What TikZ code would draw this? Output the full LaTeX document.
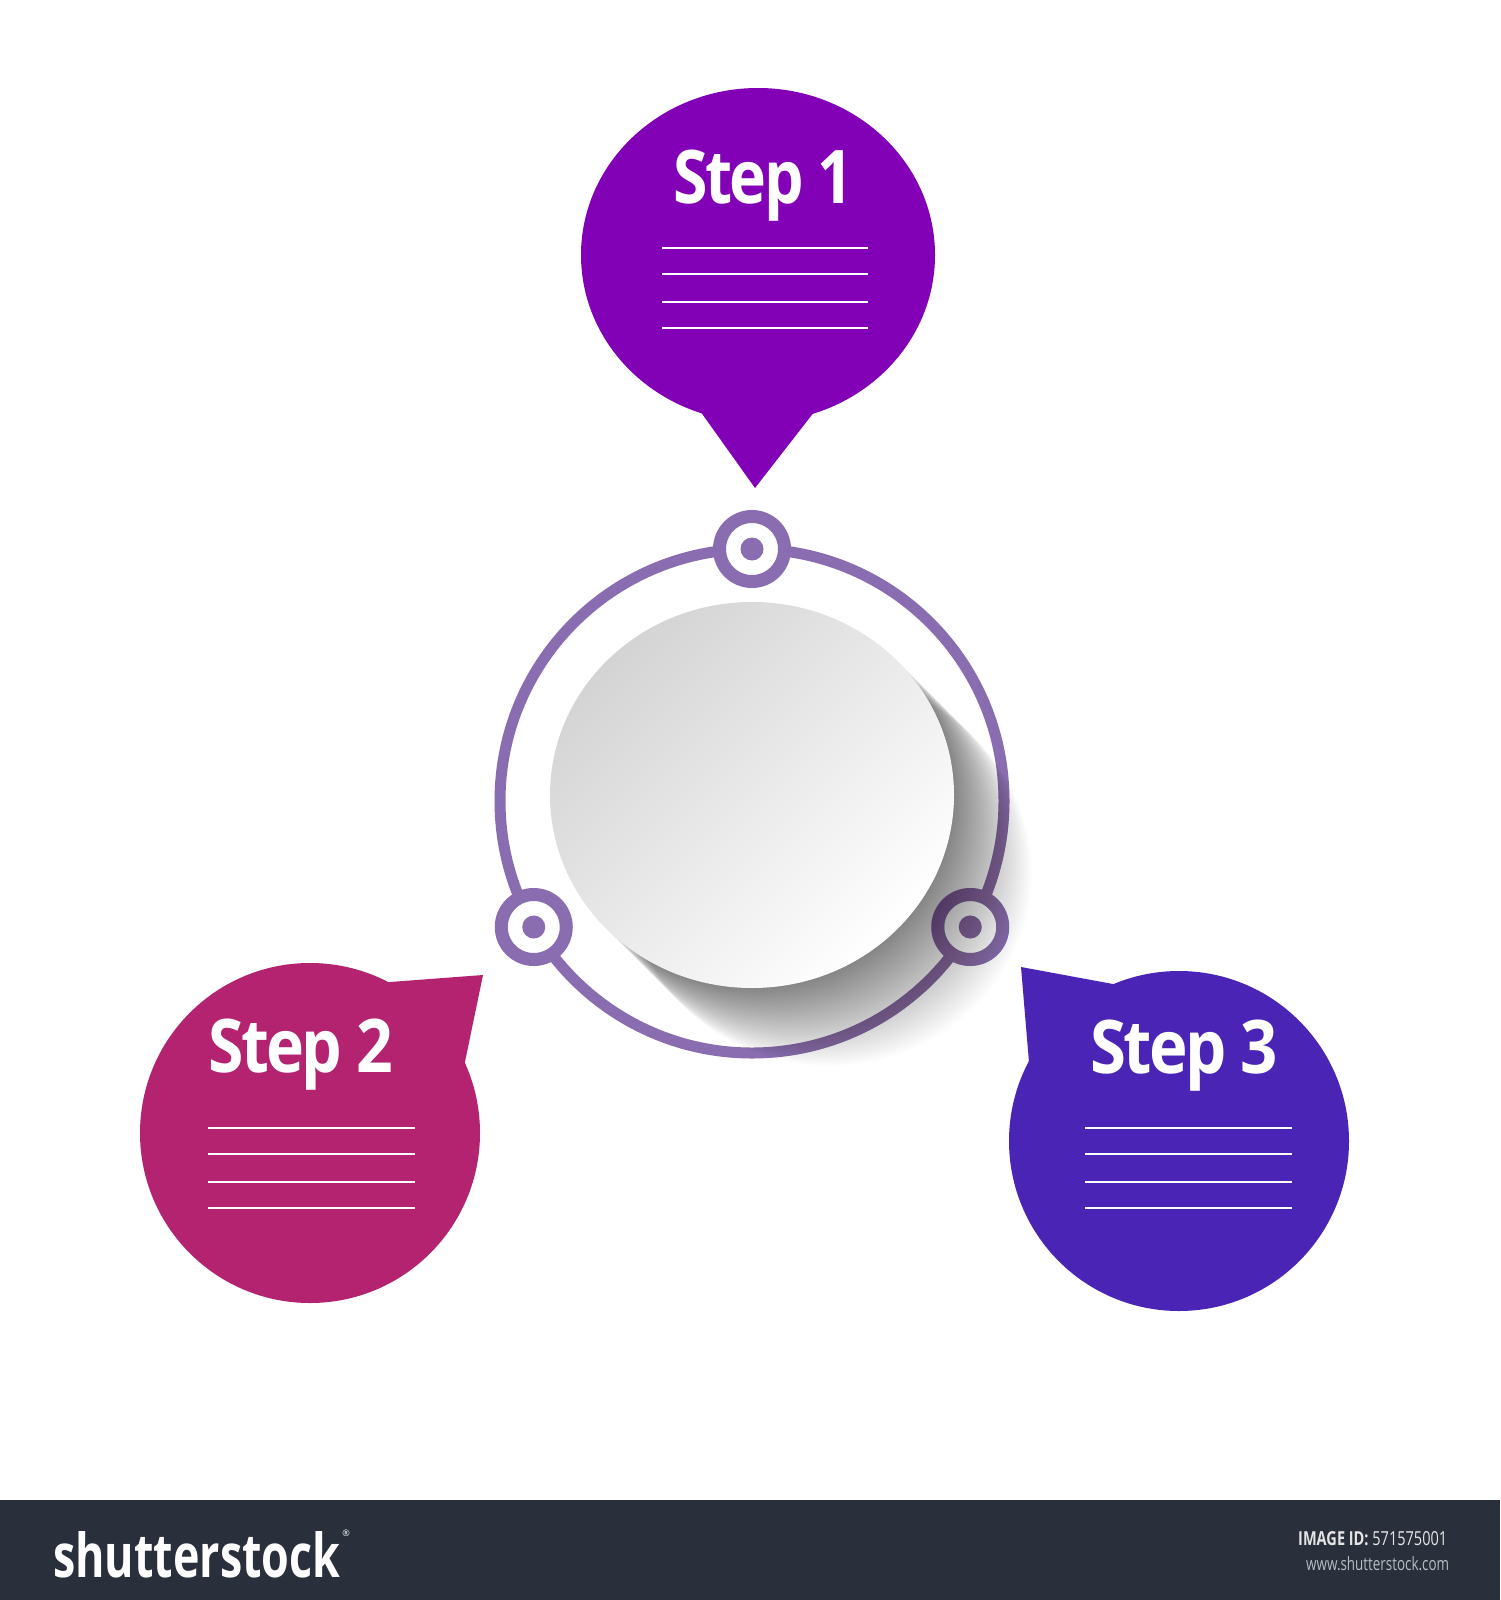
\documentclass[tikz,border=0pt]{standalone}
\usepackage{fontspec}
\usepackage{graphicx}
\usetikzlibrary{calc}
\setmainfont{Open Sans}
\newfontfamily\stepfont{Open Sans}[LetterSpace=-4]
\definecolor{stepone}{HTML}{8200B5}
\definecolor{steptwo}{HTML}{B3236F}
\definecolor{stepthree}{HTML}{4A25B5}
\definecolor{ringc}{HTML}{8A6CB0}
\definecolor{footc}{HTML}{29303B}
\definecolor{urlc}{HTML}{B8BCC2}
\tikzset{
  txtline/.style={white, line width=2.6pt},
  steplabel/.style={text=white, inner sep=0pt, anchor=base west,
    font=\stepfont\bfseries\fontsize{74}{74}\selectfont},
  hub/.style={circle, draw=ringc, line width=13pt, fill=white, minimum size=65pt, inner sep=0pt,
    path picture={\fill[ringc] (path picture bounding box.center) circle[radius=11.5pt];}},
  ringline/.style={draw=ringc, line width=11pt},
}
\begin{document}
\begin{tikzpicture}[x=1pt,y=-1pt]
\useasboundingbox (0,0) rectangle (1500,1600);
\fill[white] (0,0) rectangle (1500,1600);

% outer ring with three hubs
\coordinate (c) at (752,801);
\draw[ringline] (c) circle[radius=252];
\node[hub] (h1) at ($(c)+(270:252)$) {};
\node[hub] (h2) at ($(c)+(150:252)$) {};
\node[hub] (h3) at ($(c)+(30:252)$) {};

% long shadow of the paper disc
\foreach \i in {1,...,60}{
  \fill[black, opacity=0.009] ({752+1.3*\i},{795+1.3*\i}) ellipse[x radius=202, y radius=193];
}
% paper disc
\shade[top color=black!17, bottom color=white, shading angle=45]
  (752,795) ellipse[x radius=202, y radius=193];

% Step 1 bubble
\fill[stepone] (758,255) ellipse[x radius=177, y radius=167];
\fill[stepone] (678,380) -- (839,380) -- (755,488) -- cycle;
\node[steplabel] (s1) at (673,203) {\resizebox{180pt}{\height}{Step 1}};
\foreach \y in {248,274,302,328} \draw[txtline] (662,\y) -- (868,\y);

% Step 2 bubble
\fill[steptwo] (310,1133) circle[radius=170];
\fill[steptwo] (483,975) -- (350,985) -- (455,1110) -- cycle;
\node[steplabel] (s2) at (208,1072) {\resizebox{185pt}{\height}{Step 2}};
\foreach \y in {1128,1154,1182,1208} \draw[txtline] (208,\y) -- (415,\y);

% Step 3 bubble
\fill[stepthree] (1179,1141) circle[radius=170];
\fill[stepthree] (1021,967) -- (1140,989) -- (1033,1110) -- cycle;
\node[steplabel] (s3) at (1090,1073) {\resizebox{188pt}{\height}{Step 3}};
\foreach \y in {1128,1154,1182,1208} \draw[txtline] (1085,\y) -- (1292,\y);

% footer
\fill[footc] (0,1500) rectangle (1500,1600);
\node[anchor=base west, inner sep=0pt, text=white] (logo) at (53,1577)
  {\resizebox{287pt}{46pt}{\bfseries shutterstock}};
\node[anchor=center, inner sep=0pt, text=white, font=\fontsize{9}{9}\selectfont] (reg) at (346,1533) {®};
\node[anchor=base west, inner sep=0pt, text=white!90!black] (imgid) at (1298,1545)
  {\resizebox{149pt}{14pt}{\textbf{IMAGE ID:} 571575001}};
\node[anchor=base west, inner sep=0pt, text=urlc] (url) at (1306,1570)
  {\resizebox{143pt}{14pt}{www.shutterstock.com}};
\end{tikzpicture}
\end{document}
